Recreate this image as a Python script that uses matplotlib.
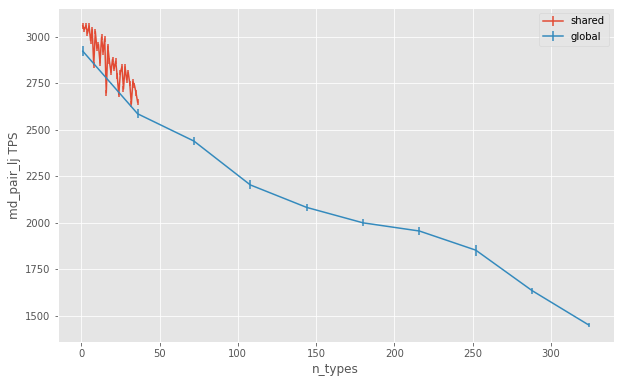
import matplotlib
matplotlib.use("Agg")
import matplotlib.pyplot as plt

plt.style.use("ggplot")

shared_x = list(range(1, 37))
shared_y = [3060, 3040, 3062, 3020, 3060, 2980, 3040, 2850, 3030, 2940,
            2960, 2860, 3000, 2920, 2990, 2700, 2950, 2870, 2810, 2880,
            2830, 2870, 2790, 2690, 2810, 2840, 2720, 2840, 2770, 2810,
            2750, 2640, 2760, 2740, 2700, 2650]
shared_err = [15] * 36

global_x = [1, 36, 72, 108, 144, 180, 216, 252, 288, 324]
global_y = [2924, 2587, 2440, 2204, 2083, 2000, 1956, 1853, 1635, 1451]
global_err = [27, 24, 22, 24, 21, 18, 19, 30, 16, 12]

fig = plt.figure(figsize=(621 / 72, 384 / 72), dpi=72)
left, right, top, bottom = 57.5, 613.8, 7.5, 342.3
ax = fig.add_axes([left / 621, (384 - bottom) / 384, (right - left) / 621, (bottom - top) / 384])

ax.errorbar(shared_x, shared_y, yerr=shared_err, label="shared")
ax.errorbar(global_x, global_y, yerr=global_err, label="global")

ax.set_xlabel("n_types")
ax.set_ylabel("md_pair_lj TPS")
ax.legend(loc="upper right")

fig.savefig("out.png", dpi=72)
